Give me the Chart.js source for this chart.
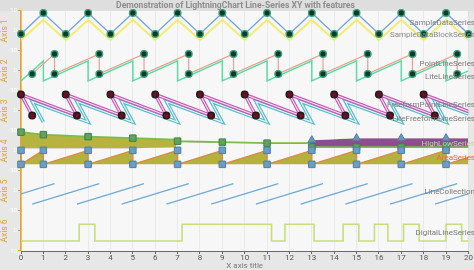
<!DOCTYPE html>
<html><head><meta charset="utf-8">
<script src="https://cdn.jsdelivr.net/npm/chart.js@4.4.1/dist/chart.umd.min.js"></script>
<style>html,body{margin:0;padding:0;background:#e6e6e6;overflow:hidden}</style>
</head><body>
<canvas id="c" width="474" height="270"></canvas>
<script>
// ---------- data ----------
const chartTitle = 'Demonstration of LightningChart Line-Series XY with features';
const xAxisTitle = 'X axis title';
const axisTitles = ['Axis 1','Axis 2','Axis 3','Axis 4','Axis 5','Axis 6'];
const seriesNames = ['SampleDataSeries','SampleDataBlockSeries','PointLineSeries','LiteLineSeries',
  'FreeformPointLineSeries','LiteFreeformLineSeries','HighLowSeries','AreaSeries','LineCollection','DigitalLineSeries'];

// Axis 1
const sampleDataX = [0,1,2,3,4,5,6,7,8,9,10,11,12,13,14,15,16,17,18,19,20];
const sampleDataY = [-1.5,9,-1.5,9,-1.5,9,-1.5,9,-1.5,9,-1.5,9,-1.5,9,-1.5,9,-1.5,9,-1.5,9,-1.5];
const sampleBlockY = [-4.5,5.5,-4.5,5.5,-4.5,5.5,-4.5,5.5,-4.5,5.5,-4.5,5.5,-4.5,5.5,-4.5,5.5,-4.5,5.5,-4.5,5.5,-4.5];

// Axis 2
const pointLineX = [0.5,1.5,1.5,3.5,3.5,5.5,5.5,7.5,7.5,9.5,9.5,11.5,11.5,13.5,13.5,15.5,15.5,17.5,17.5,19.5,19.5];
const pointLineY = [-1.5,8.5,-1.5,8.5,-1.5,8.5,-1.5,8.5,-1.5,8.5,-1.5,8.5,-1.5,8.5,-1.5,8.5,-1.5,8.5,-1.5,8.5,-1.5];
const liteLineX = [0,1,1,3,3,5,5,7,7,9,9,11,11,13,13,15,15,17,17,19,19,20];
const liteLineY = [-5,5,-5,5,-5,5,-5,5,-5,5,-5,5,-5,5,-5,5,-5,5,-5,5,-5,0];

// Axis 3
const freeformX = [0.5,0,2.5,2,4.5,4,6.5,6,8.5,8,10.5,10,12.5,12,14.5,14,16.5,16,18.5,18,20.5];
const freeformY = [-2.3,8.2,-2.3,8.2,-2.3,8.2,-2.3,8.2,-2.3,8.2,-2.3,8.2,-2.3,8.2,-2.3,8.2,-2.3,8.2,-2.3,8.2,-2.3];
const liteFreeformX = [1,0.5,3,2.5,5,4.5,7,6.5,9,8.5,11,10.5,13,12.5,15,14.5,17,16.5,19,18.5,21];
const liteFreeformY = [-5.6,4.7,-5.6,4.7,-5.6,4.7,-5.6,4.7,-5.6,4.7,-5.6,4.7,-5.6,4.7,-5.6,4.7,-5.6,4.7,-5.6,4.7,-5.6];

// Axis 4
const highLowX = [0,1,3,5,6.9,7,9,11,12.9,13,15,17,19,20];
const highY = [9.4,8.15,7.15,6.4,5.65,4.9,4.4,3.9,3.9,1.9,1.9,1.9,1.9,1.9];
const lowY  = [1.4,1.4,1.4,1.4,1.9,4.5,4.0,4.15,4.15,5.4,6.4,6.4,6.4,6.4];
const areaX = [0,0,1,1,3,3,5,5,7,7,9,9,11,11,13,13,15,15,17,17,19,19,20];
const areaY = [0.3,-6.7,0.3,-6.7,0.3,-6.7,0.3,-6.7,0.3,-6.7,0.3,-6.7,0.3,-6.7,0.3,-6.7,0.3,-6.7,0.3,-6.7,0.3,-6.7,-3.2];
const areaBase = -6.7;

// Axis 5
const lineCollX1 = [-1.5,0.5,2.5,4.5,6.5,8.5,10.5,12.5,14.5,16.5,18.5];
const lineCollX2 = [1.5,3.5,5.5,7.5,9.5,11.5,13.5,15.5,17.5,19.5,21.5];
const lineCollY1 = [-6.6,-6.6,-6.6,-6.6,-6.6,-6.6,-6.6,-6.6,-6.6,-6.6,-6.6];
const lineCollY2 = [3.7,3.7,3.7,3.7,3.7,3.7,3.7,3.7,3.7,3.7,3.7];

// Axis 6
const digitalX = [0,2.6,3.3,7.2,11.2,11.8,13.1,14.4,15.1,15.8,16.4,17.1,17.8,19.0,19.7,20];
const digitalY = [-5,3.4,-5,3.4,-5,3.4,-5,3.4,-5,3.4,-5,3.4,-5,3.4,-5,-5];

// ---------- build ----------
const pts = (xs, ys) => xs.map((x, i) => ({x: x, y: ys[i]}));
const collPts = [];
lineCollX1.forEach((x, i) => {
  collPts.push({x: x, y: lineCollY1[i]}, {x: lineCollX2[i], y: lineCollY2[i]}, {x: lineCollX2[i], y: null});
});

const FONT = 'Roboto';
const markGreen = {pointRadius: 3.3, pointBackgroundColor: '#0c3b2c', pointBorderColor: '#3aa57c', pointBorderWidth: 1.4};
const markRed = {pointRadius: 3.3, pointBackgroundColor: '#6b1020', pointBorderColor: '#1c1c1c', pointBorderWidth: 1.4};
const wideClip = {left: 6, right: 6, top: 6, bottom: 6};
const isMarkerX = x => Number.isInteger(x) && x < 20;

const datasets = [];
// Axis 1
datasets.push({data: pts(sampleDataX, sampleDataY), yAxisID: 'y1', borderColor: '#74a3dd', borderWidth: 1.4, ...markGreen, clip: wideClip, order: 1});
datasets.push({data: pts(sampleDataX, sampleBlockY), yAxisID: 'y1', borderColor: '#f3ec72', borderWidth: 2, pointRadius: 0, order: 5});
// Axis 2
datasets.push({data: pts(pointLineX, pointLineY), yAxisID: 'y2', borderColor: '#e8a08a', borderWidth: 1.2, ...markGreen, clip: wideClip, order: 1});
datasets.push({data: pts(liteLineX, liteLineY), yAxisID: 'y2', borderColor: '#55dda3', borderWidth: 1.5, pointRadius: 0, order: 5});
// Axis 3 (double-stroke look: wide line + light core + markers)
datasets.push({data: pts(freeformX, freeformY), yAxisID: 'y3', borderColor: '#c455b4', borderWidth: 3.4, pointRadius: 0, order: 4});
datasets.push({data: pts(freeformX, freeformY), yAxisID: 'y3', borderColor: '#f4e4f1', borderWidth: 1.1, pointRadius: 0, order: 3});
datasets.push({data: pts(freeformX, freeformY), yAxisID: 'y3', showLine: false, ...markRed, clip: {left: 6, right: 0, top: 6, bottom: 6}, order: 1});
datasets.push({data: pts(liteFreeformX, liteFreeformY), yAxisID: 'y3', borderColor: '#55bccb', borderWidth: 3.4, pointRadius: 0, order: 6});
datasets.push({data: pts(liteFreeformX, liteFreeformY), yAxisID: 'y3', borderColor: '#e6f6f8', borderWidth: 1.1, pointRadius: 0, order: 5});
// Axis 4
const lowIndex = datasets.length + 1;
datasets.push({data: pts(highLowX, highY), yAxisID: 'y4', borderColor: '#7cbc4a', borderWidth: 1.6,
  fill: {target: lowIndex, above: '#b6b43f', below: '#8c4e90'},
  pointStyle: 'rect', pointRadius: ctx => (isMarkerX(highLowX[ctx.dataIndex]) ? 4.6 : 0),
  pointBackgroundColor: '#62a35c', pointBorderColor: '#3f7f4a', pointBorderWidth: 1, clip: wideClip, order: 3});
datasets.push({data: pts(highLowX, lowY), yAxisID: 'y4', borderColor: 'rgba(0,0,0,0)', borderWidth: 0,
  pointStyle: 'triangle',
  pointRadius: ctx => (isMarkerX(highLowX[ctx.dataIndex]) && lowY[ctx.dataIndex] > highY[ctx.dataIndex] + 1 ? 4.5 : 0),
  pointBackgroundColor: '#6a96bb', pointBorderColor: '#4f7ea6', pointBorderWidth: 1, clip: wideClip, order: 2});
datasets.push({data: pts(areaX, areaY), yAxisID: 'y4', borderColor: '#da8a42', borderWidth: 1.4,
  fill: {value: areaBase}, backgroundColor: '#b5b13f',
  pointStyle: 'rect', pointRadius: ctx => (areaX[ctx.dataIndex] < 20 ? 4.6 : 0),
  pointBackgroundColor: '#6b9dc5', pointBorderColor: '#4d7ea6', pointBorderWidth: 1, clip: wideClip, order: 1});
// Axis 5
datasets.push({data: collPts, yAxisID: 'y5', borderColor: '#6eaad4', borderWidth: 1.2, pointRadius: 0, spanGaps: false, order: 1});
// Axis 6
datasets.push({data: pts(digitalX, digitalY), yAxisID: 'y6', borderColor: '#c6dd7c', borderWidth: 1.6, pointRadius: 0, stepped: true, order: 1});

const AXIS_COLOR = '#e8a028';
function yScale(i) {
  return {
    type: 'linear', position: 'left', stack: 'axes', stackWeight: 1, weight: 6 - i,
    min: -10, max: 10, offset: false,
    border: {color: AXIS_COLOR, width: 1.6},
    grid: {drawOnChartArea: false, drawTicks: true, tickLength: 3, color: AXIS_COLOR},
    ticks: {stepSize: 5, font: {family: FONT, size: 6}, color: '#fafafa', padding: 1},
    title: {display: true, text: axisTitles[i], color: '#e2a234', font: {family: FONT, size: 8.5, lineHeight: 1.2}, padding: {top: 0, bottom: 0}},
    afterFit: s => { s.width = 21; }
  };
}

// series labels: [name, axis id, offset from axis top (px), colour]
const labelPlacement = [
  [seriesNames[0], 'y1', 12, '#7a7f86'], [seriesNames[1], 'y1', 24, '#8a8a8a'],
  [seriesNames[2], 'y2', 13, '#7a7a7a'], [seriesNames[3], 'y2', 26, '#7a7a7a'],
  [seriesNames[4], 'y3', 14, '#7a7a7a'], [seriesNames[5], 'y3', 28, '#7a7a7a'],
  [seriesNames[6], 'y4', 13.5, '#b9d69a'], [seriesNames[7], 'y4', 27.5, '#e8673f'],
  [seriesNames[8], 'y5', 21, '#7a7a7a'], [seriesNames[9], 'y6', 22, '#7a7a7a']
];

const decor = {
  id: 'decor',
  beforeDraw(chart) {
    const {ctx, chartArea: a} = chart;
    ctx.save();
    ctx.fillStyle = '#e7e7e7';
    ctx.fillRect(0, 0, chart.width, chart.height);
    ctx.fillStyle = '#dedede';
    ctx.fillRect(0, 0, chart.width, a.top);
    ctx.fillStyle = '#f7f7f7';
    ctx.fillRect(a.left, a.top, a.right - a.left, a.bottom - a.top);
    ctx.restore();
  },
  afterDatasetsDraw(chart) {
    const {ctx} = chart;
    ctx.save();
    ctx.font = '8px ' + FONT;
    ctx.textAlign = 'right';
    ctx.textBaseline = 'middle';
    labelPlacement.forEach(([name, id, off, col]) => {
      const s = chart.scales[id];
      ctx.fillStyle = col;
      ctx.fillText(name, chart.width + 1, s.top + off);
    });
    ctx.restore();
  }
};

const scales = {
  x: {
    type: 'linear', position: 'bottom', min: 0, max: 20,
    ticks: {stepSize: 1, font: {family: FONT, size: 8, lineHeight: 1}, color: '#555', padding: 0, maxRotation: 0, autoSkip: false},
    grid: {color: 'rgba(0,0,0,0.055)', tickColor: '#666', tickLength: 3},
    border: {color: '#6a6a6a', width: 1},
    title: {display: true, text: xAxisTitle, color: '#777', font: {family: FONT, size: 8, lineHeight: 1}, padding: 0},
    afterFit: s => { s.height = 19; }
  }
};
for (let i = 0; i < 6; i++) scales['y' + (i + 1)] = yScale(i);

new Chart(document.getElementById('c'), {
  type: 'line',
  data: {datasets: datasets},
  options: {
    responsive: false, animation: false, devicePixelRatio: 1,
    layout: {padding: {left: 0, right: 3, top: 0, bottom: 0}},
    elements: {line: {tension: 0}},
    scales: scales,
    plugins: {
      legend: {display: false}, tooltip: {enabled: false},
      title: {display: true, text: chartTitle, color: '#8d8d8d', font: {family: FONT, size: 8.6, weight: 'bold', lineHeight: 1.15}, padding: {top: 1, bottom: 0}}
    }
  },
  plugins: [decor]
});
</script>
</body></html>
